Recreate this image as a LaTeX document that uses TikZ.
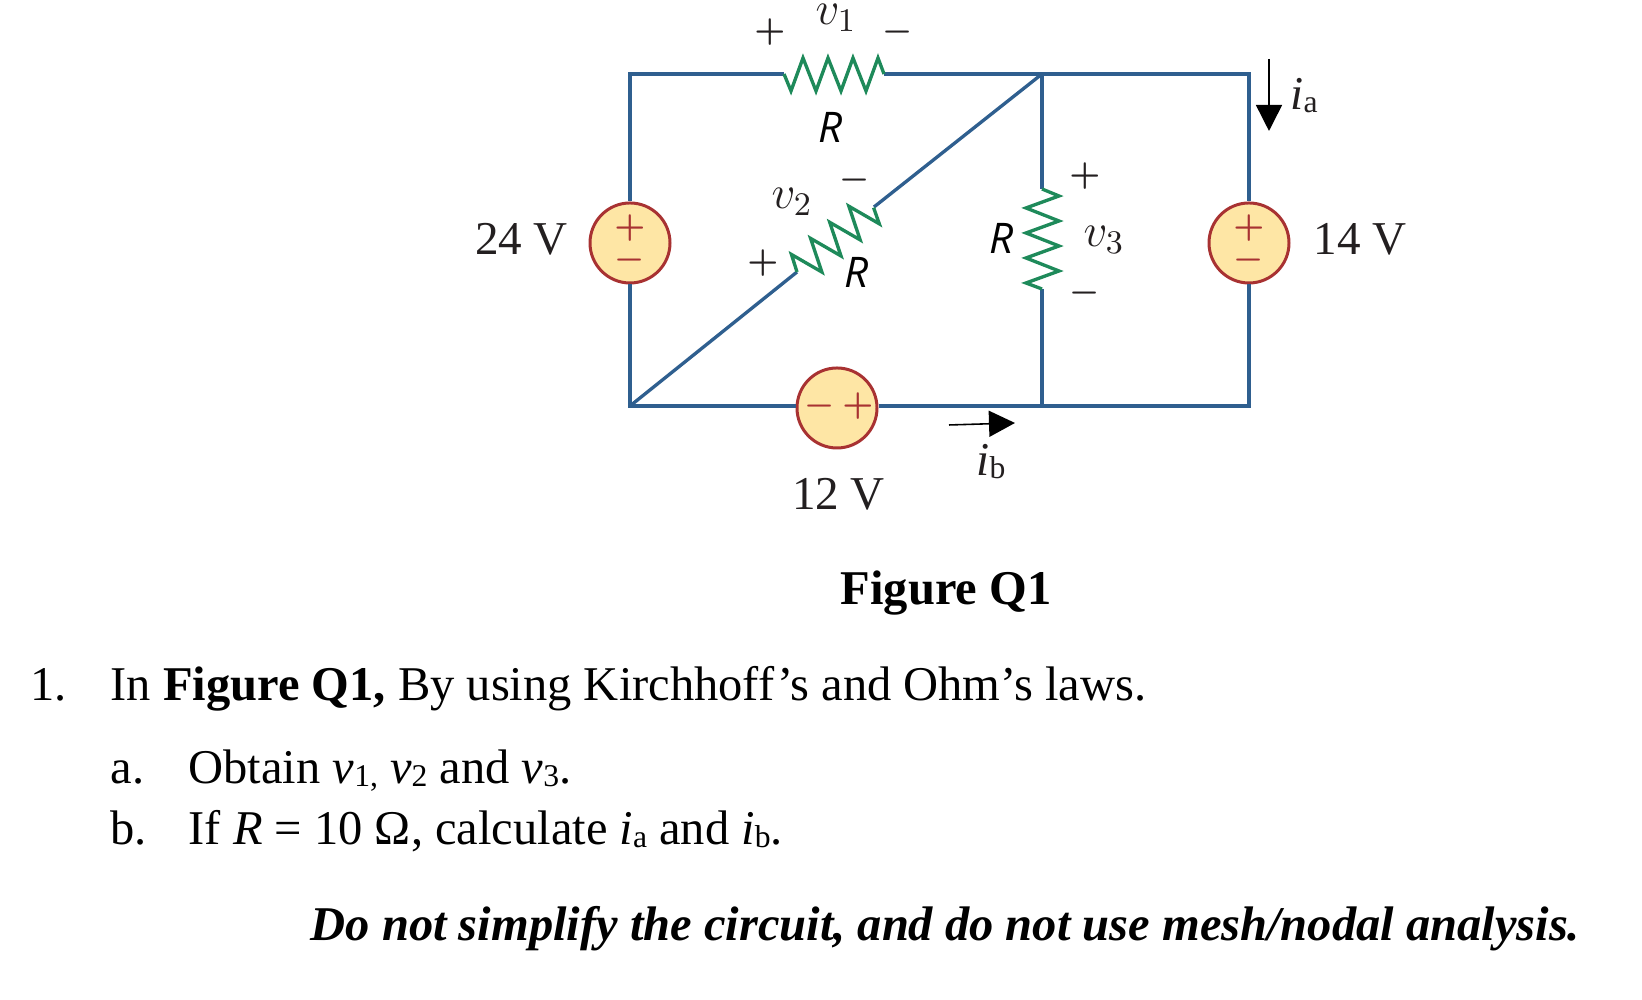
\RequirePackage{fix-cm}
\documentclass[tikz,border=0pt]{standalone}
\usepackage{fontspec}
\setmainfont{Liberation Serif}
\setsansfont{Open Sans}
\usetikzlibrary{arrows.meta}

\definecolor{wireblue}{HTML}{2F5F8F}
\definecolor{resgreen}{HTML}{1E8A5A}
\definecolor{srcred}{HTML}{A83232}
\definecolor{srcfill}{HTML}{FEE6A5}
\definecolor{labelgray}{HTML}{231F20}

\tikzset{
    wire/.style={wireblue, line width=0.95pt},
    srcnode/.style={circle, draw=srcred, fill=srcfill, line width=0.85pt, minimum size=0.8cm, inner sep=0},
    srcsign/.style={inner sep=0, text=srcred, font=\fontsize{9.6}{12}\selectfont\boldmath},
    polsign/.style={inner sep=0, text=labelgray, font=\fontsize{9.6}{12}\selectfont\boldmath},
    vlabel/.style={inner sep=0, text=labelgray, font=\fontsize{13.4}{16}\selectfont},
    rlabel/.style={inner sep=0, font=\fontsize{12}{14}\sffamily\itshape\selectfont},
    bodytext/.style={inner sep=0, anchor=base west, font=\fontsize{13.8}{16}\selectfont},
    curarrow/.style={-{Triangle[length=0.26cm, width=0.26cm]}, line width=0.45pt},
    resistor/.pic={
        \draw[resgreen, line width=0.95pt] (0,0) -- (0.07,0.17) -- (0.19,-0.16) -- (0.32,0.17) -- (0.44,-0.16)
            -- (0.57,0.17) -- (0.69,-0.16) -- (0.82,0.17) -- (0.94,-0.16) -- (1,0);
    }
}
\newcommand{\lowsub}[1]{\raisebox{-0.85pt}{\fontsize{9}{10}\selectfont #1}}
\newcommand{\isub}[2]{\textit{#1}\lowsub{#2}}

\begin{document}
\begin{tikzpicture}
    \useasboundingbox (0,0) rectangle (16.42,10);

    % corners and resistor ends
    \coordinate (tl) at (6.30,9.26);
    \coordinate (tj) at (10.42,9.26);
    \coordinate (tr) at (12.49,9.26);
    \coordinate (bl) at (6.30,5.94);
    \coordinate (bj) at (10.42,5.94);
    \coordinate (br) at (12.49,5.94);
    \coordinate (r1a) at (7.84,9.26);
    \coordinate (r1b) at (8.84,9.26);
    \coordinate (r2a) at (7.97,7.28);
    \coordinate (r2b) at (8.74,7.93);
    \coordinate (r3a) at (10.42,8.11);
    \coordinate (r3b) at (10.42,7.11);

    % sources
    \node[srcnode] (vleft) at (6.30,7.57) {};
    \node[srcnode] (vright) at (12.49,7.57) {};
    \node[srcnode] (vbot) at (8.37,5.92) {};

    % wires
    \draw[wire] (vleft) -- (tl) -- (r1a);
    \draw[wire] (r1b) -- (tj) -- (tr) -- (vright);
    \draw[wire] (vleft) -- (bl) -- (vbot.west |- bl);
    \draw[wire] (vbot.east |- bj) -- (bj) -- (br) -- (vright);
    \draw[wire] (bl) -- (r2a);
    \draw[wire] (r2b) -- (tj);
    \draw[wire] (tj) -- (r3a);
    \draw[wire] (r3b) -- (bj);

    % resistors
    \pic[yscale=-1] at (r1a) {resistor};
    \pic[rotate=40] at (r2a) {resistor};
    \pic[rotate=-90] at (r3a) {resistor};

    % source signs
    \node[srcsign] (vleftp) at (6.30,7.72) {$+$};
    \node[srcsign] (vleftm) at (6.30,7.40) {$-$};
    \node[srcsign] (vrightp) at (12.49,7.72) {$+$};
    \node[srcsign] (vrightm) at (12.49,7.40) {$-$};
    \node[srcsign] (vbotm) at (8.20,5.94) {$-$};
    \node[srcsign] (vbotp) at (8.58,5.94) {$+$};

    % source values
    \node[vlabel, anchor=base] (v24) at (5.215,7.45) {24 V};
    \node[vlabel, anchor=base] (v14) at (13.60,7.45) {14 V};
    \node[vlabel, anchor=base] (v12) at (8.385,4.90) {12 V};

    % voltage labels
    \node[polsign] (p1) at (7.70,9.68) {$+$};
    \node[polsign] (m1) at (8.98,9.68) {$-$};
    \node[vlabel] (lv1) at (8.36,9.82) {$v_1$};
    \node[polsign] (p2) at (7.63,7.37) {$+$};
    \node[polsign] (m2) at (8.55,8.20) {$-$};
    \node[vlabel] (lv2) at (7.92,7.98) {$v_2$};
    \node[polsign] (p3) at (10.85,8.24) {$+$};
    \node[polsign] (m3) at (10.85,7.07) {$-$};
    \node[vlabel] (lv3) at (11.04,7.60) {$v_3$};

    % resistor labels
    \node[rlabel] (lr1) at (8.31,8.73) {R};
    \node[rlabel] (lr2) at (8.57,7.28) {R};
    \node[rlabel] (lr3) at (10.02,7.62) {R};

    % current arrows
    \coordinate (iastart) at (12.69,9.41);
    \coordinate (iaend) at (12.69,8.69);
    \coordinate (ibstart) at (9.49,5.75);
    \coordinate (ibend) at (10.15,5.77);
    \draw[curarrow] (iastart) -- (iaend);
    \draw[curarrow] (ibstart) -- (ibend);
    \node[vlabel, anchor=base] (lia) at (13.04,8.90) {\isub{i}{a}};
    \node[vlabel, anchor=base] (lib) at (9.91,5.24) {\isub{i}{b}};

    % text below the circuit
    \node[bodytext, font=\fontsize{13.8}{16}\bfseries\selectfont] (fig) at (8.40,3.95) {Figure Q1};
    \node[bodytext] (q1n) at (0.30,2.99) {1.};
    \node[bodytext] (q1) at (1.10,2.99) {In \textbf{Figure Q1,} By using Kirchhoff’s and Ohm’s laws.};
    \node[bodytext] (qan) at (1.10,2.16) {a.};
    \node[bodytext] (qa) at (1.88,2.16) {Obtain \isub{v}{1,} \isub{v}{2} and \isub{v}{3}.};
    \node[bodytext] (qbn) at (1.10,1.55) {b.};
    \node[bodytext] (qb) at (1.88,1.55) {If \textit{R} = 10 Ω, calculate \isub{i}{a} and \isub{i}{b}.};
    \node[bodytext, font=\fontsize{13.8}{16}\bfseries\itshape\selectfont] (note) at (3.10,0.59) {Do not simplify the circuit, and do not use mesh/nodal analysis.};
\end{tikzpicture}
\end{document}
